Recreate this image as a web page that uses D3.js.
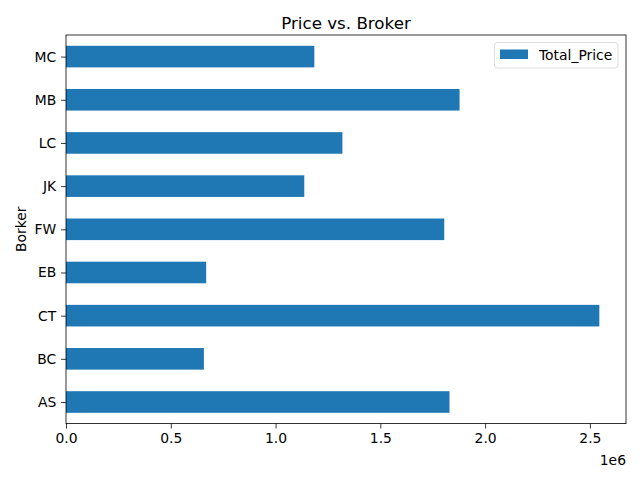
<!DOCTYPE html>
<html><head><meta charset="utf-8">
<script src="https://cdn.jsdelivr.net/npm/d3@7"></script>
<style>body{margin:0;background:#fff}svg{display:block;font-family:"DejaVu Sans",sans-serif}</style>
</head><body>
<svg id="c" width="640" height="480"></svg>
<script>
const categories = ["AS","BC","CT","EB","FW","JK","LC","MB","MC"];
const totalPrice = [1830000, 658000, 2545000, 669000, 1805000, 1137000, 1319000, 1878000, 1185000];
const xTicks = [0, 0.5e6, 1.0e6, 1.5e6, 2.0e6, 2.5e6];
const seriesName = "Total_Price";
const title = "Price vs. Broker";
const yLabel = "Borker";

const svg = d3.select("#c");
const L = 66, R = 626, T = 35, B = 423.6;
const color = "#1f77b4";
const maxV = d3.max(totalPrice);
const x = d3.scaleLinear().domain([0, maxV * 1.05]).range([L, R]);
// categorical positions, index 0 at bottom; limits (-0.5, n-0.5)
const y = d3.scaleLinear().domain([-0.5, categories.length - 0.5]).range([B, T]);
const barH = Math.abs(y(0.25) - y(-0.25));

svg.append("g").selectAll("rect").data(categories).join("rect")
  .attr("x", x(0))
  .attr("y", (d, i) => y(i) - barH / 2)
  .attr("width", (d, i) => x(totalPrice[i]) - x(0))
  .attr("height", barH)
  .attr("fill", color);

const fs = 13.9;
const xAxis = svg.append("g").attr("transform", `translate(0,${B})`)
  .call(d3.axisBottom(x).tickValues(xTicks).tickSize(4.9).tickPadding(4.9).tickFormat(d => (d / 1e6).toFixed(1)));
xAxis.select(".domain").remove();
xAxis.selectAll("text").attr("font-size", fs).attr("font-family", "DejaVu Sans").attr("fill", "#000");
xAxis.selectAll("line").attr("stroke", "#000").attr("stroke-width", 0.8);

const yAxis = svg.append("g").attr("transform", `translate(${L},0)`)
  .call(d3.axisLeft(y).tickValues(d3.range(categories.length)).tickSize(4.9).tickPadding(4.9).tickFormat(i => categories[i]));
yAxis.select(".domain").remove();
yAxis.selectAll("text").attr("font-size", fs).attr("font-family", "DejaVu Sans").attr("fill", "#000");
yAxis.selectAll("line").attr("stroke", "#000").attr("stroke-width", 0.8);

svg.append("rect").attr("x", L).attr("y", T).attr("width", R - L).attr("height", B - T)
  .attr("fill", "none").attr("stroke", "#000").attr("stroke-width", 0.8);

svg.append("text").attr("x", (L + R) / 2).attr("y", 29).attr("text-anchor", "middle")
  .attr("font-size", 16.7).text(title);

svg.append("text").attr("transform", `translate(26,${(T + B) / 2}) rotate(-90)`)
  .attr("text-anchor", "middle").attr("font-size", fs).text(yLabel);

svg.append("text").attr("x", R).attr("y", 465).attr("text-anchor", "end")
  .attr("font-size", fs).text("1e6");

// legend
const lg = svg.append("g");
lg.append("rect").attr("x", 494.5).attr("y", 42.5).attr("width", 123.5).attr("height", 25.5)
  .attr("rx", 3).attr("fill", "#fff").attr("fill-opacity", 0.8).attr("stroke", "#d9d9d9").attr("stroke-width", 0.9);
lg.append("rect").attr("x", 500).attr("y", 49.5).attr("width", 28).attr("height", 9.5).attr("fill", color);
lg.append("text").attr("x", 539).attr("y", 59.5).attr("font-size", fs).text(seriesName);
</script>
</body></html>
